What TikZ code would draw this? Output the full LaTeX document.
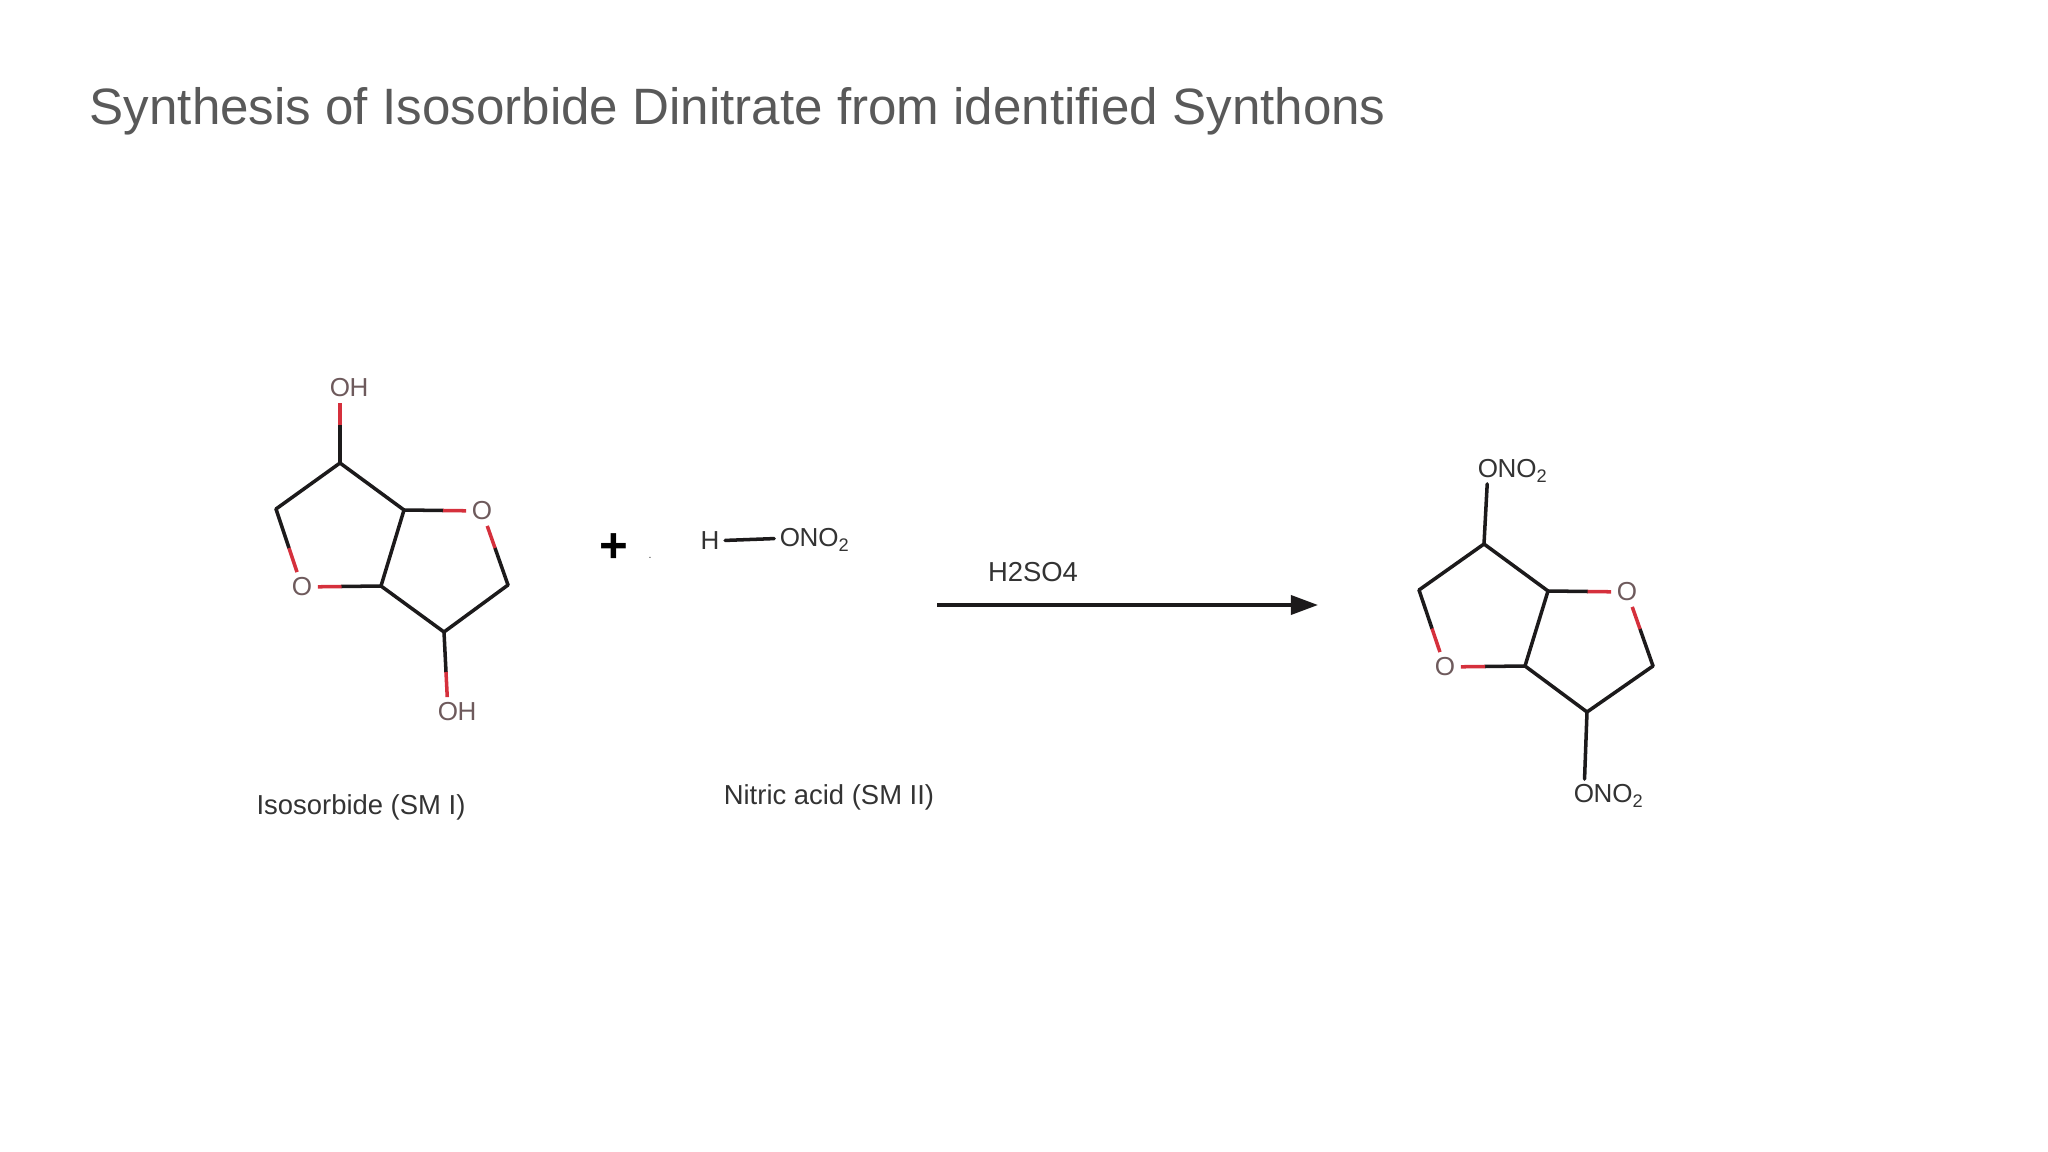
\documentclass[tikz,border=0pt]{standalone}
\usepackage{fontspec}
\setmainfont{Liberation Sans}
\usetikzlibrary{calc,arrows.meta}

\definecolor{titlegrey}{HTML}{595959}
\definecolor{labelgrey}{HTML}{333333}
\definecolor{atomgrey}{HTML}{6E5A5C}
\definecolor{bondblack}{HTML}{1C1A1B}
\definecolor{bondred}{HTML}{D5303C}

\tikzset{
    bond/.style={draw=bondblack, line width=1pt, line cap=round},
    oxybond/.style={draw=bondred, line width=1pt},
    atomtext/.style={font=\fontsize{7.4}{9}\selectfont, text=atomgrey, inner sep=0.05cm},
    grouptext/.style={font=\fontsize{7.4}{9}\selectfont, text=labelgrey, inner sep=0.05cm},
    tailtext/.style={anchor=base west, inner sep=0pt, xshift=-0.07cm},
    nametext/.style={font=\fontsize{7.8}{9}\selectfont, text=labelgrey, inner sep=0pt},
}

\begin{document}
\begin{tikzpicture}[x=0.01cm, y=-0.01cm]
    \useasboundingbox (0, 0) rectangle (2048, 1152);

    \node[anchor=west, inner sep=0pt, text=titlegrey, font=\fontsize{14.54}{17}\selectfont] (title) at (89, 111) {Synthesis of Isosorbide Dinitrate from identified Synthons};

    % isosorbide
    \coordinate (topC) at (340, 463);
    \coordinate (leftC) at (276, 509);
    \coordinate (lowC) at (381, 586);
    \coordinate (upC) at (404, 510);
    \coordinate (rightC) at (508, 585);
    \coordinate (botC) at (444, 632);
    \node[atomtext] (leftO) at (302, 587) {O};
    \node[atomtext] (rightO) at (482, 511) {O};
    \node[atomtext] (topO) at (340, 388) {O};
    \node[atomtext, tailtext, text=atomgrey] (topH) at (topO.base east) {H};
    \node[atomtext] (botO) at (448, 712) {O};
    \node[atomtext, tailtext, text=atomgrey] (botH) at (botO.base east) {H};

    \draw[bond] (topC) -- (leftC);
    \draw[bond] (topC) -- (upC);
    \draw[bond] (upC) -- (lowC);
    \draw[bond] (lowC) -- (botC);
    \draw[bond] (botC) -- (rightC);
    \draw[bond] (leftC) -- ($(leftC)!0.5!(leftO)$);
    \draw[oxybond] ($(leftC)!0.5!(leftO)$) -- (leftO);
    \draw[bond] (lowC) -- ($(lowC)!0.5!(leftO)$);
    \draw[oxybond] ($(lowC)!0.5!(leftO)$) -- (leftO);
    \draw[bond] (upC) -- ($(upC)!0.5!(rightO)$);
    \draw[oxybond] ($(upC)!0.5!(rightO)$) -- (rightO);
    \draw[bond] (rightC) -- ($(rightC)!0.5!(rightO)$);
    \draw[oxybond] ($(rightC)!0.5!(rightO)$) -- (rightO);
    \draw[bond] (topC) -- ($(topC)!0.5!(topO)$);
    \draw[oxybond] ($(topC)!0.5!(topO)$) -- (topO);
    \draw[bond] (botC) -- ($(botC)!0.5!(botO)$);
    \draw[oxybond] ($(botC)!0.5!(botO)$) -- (botO);

    \node[nametext] (isoName) at (361, 807) {Isosorbide (SM I)};

    % plus sign
    \node[inner sep=0pt, text=black, font=\fontsize{14}{15}\selectfont\bfseries] (plus) at (614, 548) {+};
    \node[inner sep=0pt, text=labelgrey, font=\fontsize{3}{4}\selectfont] (speck) at (650, 558) {.};

    % nitric acid
    \node[grouptext] (acidH) at (710, 541) {H};
    \node[grouptext] (acidO) at (790, 538) {O};
    \node[grouptext, tailtext] (acidTail) at (acidO.base east) {NO\textsubscript{2}};
    \draw[bond, line width=1pt] (acidH) -- (acidO);
    \node[nametext] (acidName) at (829, 797) {Nitric acid (SM II)};

    % reaction arrow
    \node[nametext] (reagent) at (1033, 572) {H2SO4};
    \coordinate (arrowStart) at (937, 605);
    \coordinate (arrowEnd) at (1318, 605);
    \draw[bondblack, line width=1pt, -{Triangle[length=0.27cm, width=0.19cm]}] (arrowStart) -- (arrowEnd);

    % isosorbide dinitrate
    \coordinate (prodTopC) at (1484, 544);
    \coordinate (prodLeftC) at (1419, 590);
    \coordinate (prodLowC) at (1525, 666);
    \coordinate (prodUpC) at (1548, 591);
    \coordinate (prodRightC) at (1653, 666);
    \coordinate (prodBotC) at (1587, 712);
    \node[atomtext] (prodLeftO) at (1445, 667) {O};
    \node[atomtext] (prodRightO) at (1627, 592) {O};
    \node[grouptext] (prodTopO) at (1488, 469) {O};
    \node[grouptext, tailtext] (prodTopTail) at (prodTopO.base east) {NO\textsubscript{2}};
    \node[grouptext] (prodBotO) at (1584, 794) {O};
    \node[grouptext, tailtext] (prodBotTail) at (prodBotO.base east) {NO\textsubscript{2}};

    \draw[bond] (prodTopC) -- (prodLeftC);
    \draw[bond] (prodTopC) -- (prodUpC);
    \draw[bond] (prodUpC) -- (prodLowC);
    \draw[bond] (prodLowC) -- (prodBotC);
    \draw[bond] (prodBotC) -- (prodRightC);
    \draw[bond] (prodTopC) -- (prodTopO);
    \draw[bond] (prodBotC) -- (prodBotO);
    \draw[bond] (prodLeftC) -- ($(prodLeftC)!0.5!(prodLeftO)$);
    \draw[oxybond] ($(prodLeftC)!0.5!(prodLeftO)$) -- (prodLeftO);
    \draw[bond] (prodLowC) -- ($(prodLowC)!0.5!(prodLeftO)$);
    \draw[oxybond] ($(prodLowC)!0.5!(prodLeftO)$) -- (prodLeftO);
    \draw[bond] (prodUpC) -- ($(prodUpC)!0.5!(prodRightO)$);
    \draw[oxybond] ($(prodUpC)!0.5!(prodRightO)$) -- (prodRightO);
    \draw[bond] (prodRightC) -- ($(prodRightC)!0.5!(prodRightO)$);
    \draw[oxybond] ($(prodRightC)!0.5!(prodRightO)$) -- (prodRightO);
\end{tikzpicture}
\end{document}
